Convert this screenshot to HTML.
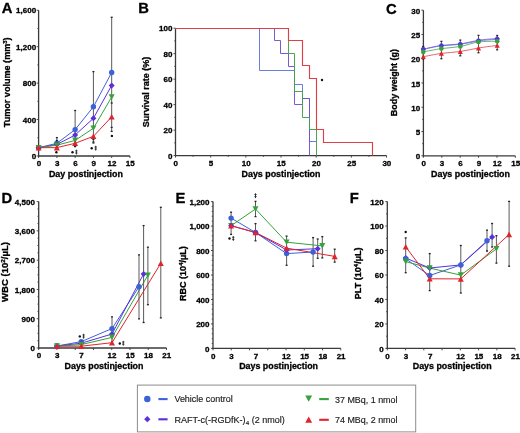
<!DOCTYPE html>
<html><head><meta charset="utf-8"><style>
html,body{margin:0;padding:0;background:#fff;}
svg{display:block;filter:blur(0.4px);}
text{font-family:"Liberation Sans",sans-serif;}
text[font-weight="bold"]{stroke:#000;stroke-width:0.3px;fill:#000;}
</style></head><body>
<svg width="520" height="433" viewBox="0 0 520 433">
<rect width="520" height="433" fill="#fff"/>
<text x="1.8" y="13.4" font-size="14.8" font-weight="bold" fill="#111">A</text>
<line x1="38.60" y1="156.60" x2="38.60" y2="10.24" stroke="#3a3a3a" stroke-width="1.3"/>
<line x1="36.60" y1="156.00" x2="38.60" y2="156.00" stroke="#3a3a3a" stroke-width="0.9"/>
<text x="36.10" y="159.10" font-size="8.0" font-weight="bold" text-anchor="end" fill="#111">0</text>
<line x1="36.60" y1="119.56" x2="38.60" y2="119.56" stroke="#3a3a3a" stroke-width="0.9"/>
<text x="36.10" y="122.66" font-size="8.0" font-weight="bold" text-anchor="end" fill="#111">400</text>
<line x1="36.60" y1="83.12" x2="38.60" y2="83.12" stroke="#3a3a3a" stroke-width="0.9"/>
<text x="36.10" y="86.22" font-size="8.0" font-weight="bold" text-anchor="end" fill="#111">800</text>
<line x1="36.60" y1="46.68" x2="38.60" y2="46.68" stroke="#3a3a3a" stroke-width="0.9"/>
<text x="36.10" y="49.78" font-size="8.0" font-weight="bold" text-anchor="end" fill="#111">1,200</text>
<line x1="36.60" y1="10.24" x2="38.60" y2="10.24" stroke="#3a3a3a" stroke-width="0.9"/>
<text x="36.10" y="13.34" font-size="8.0" font-weight="bold" text-anchor="end" fill="#111">1,600</text>
<line x1="37.30" y1="137.78" x2="38.60" y2="137.78" stroke="#3a3a3a" stroke-width="0.8"/>
<line x1="37.30" y1="101.34" x2="38.60" y2="101.34" stroke="#3a3a3a" stroke-width="0.8"/>
<line x1="37.30" y1="64.90" x2="38.60" y2="64.90" stroke="#3a3a3a" stroke-width="0.8"/>
<line x1="37.30" y1="28.46" x2="38.60" y2="28.46" stroke="#3a3a3a" stroke-width="0.8"/>
<line x1="38.00" y1="156.00" x2="129.95" y2="156.00" stroke="#3a3a3a" stroke-width="1.3"/>
<line x1="38.60" y1="156.00" x2="38.60" y2="158.00" stroke="#3a3a3a" stroke-width="0.9"/>
<line x1="56.87" y1="156.00" x2="56.87" y2="158.00" stroke="#3a3a3a" stroke-width="0.9"/>
<line x1="75.14" y1="156.00" x2="75.14" y2="158.00" stroke="#3a3a3a" stroke-width="0.9"/>
<line x1="93.41" y1="156.00" x2="93.41" y2="158.00" stroke="#3a3a3a" stroke-width="0.9"/>
<line x1="111.68" y1="156.00" x2="111.68" y2="158.00" stroke="#3a3a3a" stroke-width="0.9"/>
<line x1="129.95" y1="156.00" x2="129.95" y2="158.00" stroke="#3a3a3a" stroke-width="0.9"/>
<text x="38.90" y="165.60" font-size="8.0" font-weight="bold" text-anchor="middle" fill="#111">0</text>
<text x="57.17" y="165.60" font-size="8.0" font-weight="bold" text-anchor="middle" fill="#111">3</text>
<text x="75.44" y="165.60" font-size="8.0" font-weight="bold" text-anchor="middle" fill="#111">6</text>
<text x="93.71" y="165.60" font-size="8.0" font-weight="bold" text-anchor="middle" fill="#111">9</text>
<text x="111.98" y="165.60" font-size="8.0" font-weight="bold" text-anchor="middle" fill="#111">12</text>
<text x="130.25" y="165.60" font-size="8.0" font-weight="bold" text-anchor="middle" fill="#111">15</text>
<text x="85.90" y="177.00" font-size="8.9" font-weight="bold" text-anchor="middle" fill="#111"  >Day postinjection</text>
<text x="9.9" y="82.35" font-size="9.4" font-weight="bold" text-anchor="middle" fill="#111" textLength="89.7" lengthAdjust="spacingAndGlyphs" transform="rotate(-90 9.9 82.35)">Tumor volume (mm<tspan font-size="6.0" dy="-3.2">3</tspan><tspan dy="3.2">)</tspan></text>
<line x1="56.87" y1="137.60" x2="56.87" y2="147.50" stroke="#5a5a5a" stroke-width="1.0"/>
<line x1="55.87" y1="137.60" x2="57.87" y2="137.60" stroke="#222" stroke-width="1.3"/>
<line x1="55.87" y1="147.50" x2="57.87" y2="147.50" stroke="#222" stroke-width="1.3"/>
<line x1="75.14" y1="110.50" x2="75.14" y2="146.50" stroke="#5a5a5a" stroke-width="1.0"/>
<line x1="74.14" y1="110.50" x2="76.14" y2="110.50" stroke="#222" stroke-width="1.3"/>
<line x1="74.14" y1="146.50" x2="76.14" y2="146.50" stroke="#222" stroke-width="1.3"/>
<line x1="93.41" y1="71.60" x2="93.41" y2="142.00" stroke="#5a5a5a" stroke-width="1.0"/>
<line x1="92.41" y1="71.60" x2="94.41" y2="71.60" stroke="#222" stroke-width="1.3"/>
<line x1="92.41" y1="142.00" x2="94.41" y2="142.00" stroke="#222" stroke-width="1.3"/>
<line x1="111.68" y1="17.30" x2="111.68" y2="131.40" stroke="#5a5a5a" stroke-width="1.0"/>
<line x1="110.68" y1="17.30" x2="112.68" y2="17.30" stroke="#222" stroke-width="1.3"/>
<line x1="110.68" y1="131.40" x2="112.68" y2="131.40" stroke="#222" stroke-width="1.3"/>
<polyline points="38.60,147.70 56.87,143.30 75.14,129.60 93.41,106.80 111.68,72.50" fill="none" stroke="#3d62d8" stroke-width="1.0" stroke-linejoin="miter"/>
<polyline points="38.60,147.70 56.87,144.50 75.14,135.00 93.41,118.30 111.68,85.40" fill="none" stroke="#5a30dc" stroke-width="1.0" stroke-linejoin="miter"/>
<polyline points="38.60,147.70 56.87,145.20 75.14,140.40 93.41,128.30 111.68,97.00" fill="none" stroke="#36a23a" stroke-width="1.0" stroke-linejoin="miter"/>
<polyline points="38.60,147.70 56.87,147.60 75.14,143.30 93.41,136.30 111.68,116.80" fill="none" stroke="#e0242b" stroke-width="1.0" stroke-linejoin="miter"/>
<circle cx="38.60" cy="147.70" r="2.70" fill="#3d62d8"/>
<circle cx="56.87" cy="143.30" r="2.70" fill="#3d62d8"/>
<circle cx="75.14" cy="129.60" r="2.70" fill="#3d62d8"/>
<circle cx="93.41" cy="106.80" r="2.70" fill="#3d62d8"/>
<circle cx="111.68" cy="72.50" r="2.70" fill="#3d62d8"/>
<polygon points="38.60,144.70 41.60,147.70 38.60,150.70 35.60,147.70" fill="#5a30dc"/>
<polygon points="56.87,141.50 59.87,144.50 56.87,147.50 53.87,144.50" fill="#5a30dc"/>
<polygon points="75.14,132.00 78.14,135.00 75.14,138.00 72.14,135.00" fill="#5a30dc"/>
<polygon points="93.41,115.30 96.41,118.30 93.41,121.30 90.41,118.30" fill="#5a30dc"/>
<polygon points="111.68,82.40 114.68,85.40 111.68,88.40 108.68,85.40" fill="#5a30dc"/>
<polygon points="35.60,144.90 41.60,144.90 38.60,150.50" fill="#36a23a"/>
<polygon points="53.87,142.40 59.87,142.40 56.87,148.00" fill="#36a23a"/>
<polygon points="72.14,137.60 78.14,137.60 75.14,143.20" fill="#36a23a"/>
<polygon points="90.41,125.50 96.41,125.50 93.41,131.10" fill="#36a23a"/>
<polygon points="108.68,94.20 114.68,94.20 111.68,99.80" fill="#36a23a"/>
<polygon points="35.60,150.50 41.60,150.50 38.60,144.90" fill="#e0242b"/>
<polygon points="53.87,150.40 59.87,150.40 56.87,144.80" fill="#e0242b"/>
<polygon points="72.14,146.10 78.14,146.10 75.14,140.50" fill="#e0242b"/>
<polygon points="90.41,139.10 96.41,139.10 93.41,133.50" fill="#e0242b"/>
<polygon points="108.68,119.60 114.68,119.60 111.68,114.00" fill="#e0242b"/>
<line x1="110.68" y1="103.00" x2="112.68" y2="103.00" stroke="#222" stroke-width="1.3"/>
<line x1="110.68" y1="127.40" x2="112.68" y2="127.40" stroke="#222" stroke-width="1.3"/>
<line x1="92.41" y1="139.50" x2="94.41" y2="139.50" stroke="#222" stroke-width="1.3"/>
<line x1="92.41" y1="143.00" x2="94.41" y2="143.00" stroke="#222" stroke-width="1.3"/>
<line x1="74.14" y1="146.50" x2="76.14" y2="146.50" stroke="#222" stroke-width="1.3"/>
<line x1="55.87" y1="140.50" x2="57.87" y2="140.50" stroke="#222" stroke-width="1.3"/>
<circle cx="56.40" cy="152.30" r="1.2" fill="#111"/>
<circle cx="72.50" cy="152.20" r="1.2" fill="#111"/>
<path d="M76.40,149.70 V154.50 M75.30,150.90 H77.50 M75.30,153.00 H77.50" stroke="#222" stroke-width="0.9" fill="none"/>
<circle cx="91.70" cy="148.20" r="1.2" fill="#111"/>
<path d="M95.70,145.80 V150.60 M94.60,147.00 H96.80 M94.60,149.10 H96.80" stroke="#222" stroke-width="0.9" fill="none"/>
<circle cx="111.90" cy="135.90" r="1.2" fill="#111"/>
<text x="138.2" y="13.4" font-size="14.8" font-weight="bold" fill="#111">B</text>
<line x1="175.50" y1="156.20" x2="175.50" y2="28.15" stroke="#3a3a3a" stroke-width="1.3"/>
<line x1="173.50" y1="155.60" x2="175.50" y2="155.60" stroke="#3a3a3a" stroke-width="0.9"/>
<text x="172.40" y="158.70" font-size="8.0" font-weight="bold" text-anchor="end" fill="#111">0</text>
<line x1="173.50" y1="130.11" x2="175.50" y2="130.11" stroke="#3a3a3a" stroke-width="0.9"/>
<text x="172.40" y="133.21" font-size="8.0" font-weight="bold" text-anchor="end" fill="#111">20</text>
<line x1="173.50" y1="104.62" x2="175.50" y2="104.62" stroke="#3a3a3a" stroke-width="0.9"/>
<text x="172.40" y="107.72" font-size="8.0" font-weight="bold" text-anchor="end" fill="#111">40</text>
<line x1="173.50" y1="79.13" x2="175.50" y2="79.13" stroke="#3a3a3a" stroke-width="0.9"/>
<text x="172.40" y="82.23" font-size="8.0" font-weight="bold" text-anchor="end" fill="#111">60</text>
<line x1="173.50" y1="53.64" x2="175.50" y2="53.64" stroke="#3a3a3a" stroke-width="0.9"/>
<text x="172.40" y="56.74" font-size="8.0" font-weight="bold" text-anchor="end" fill="#111">80</text>
<line x1="173.50" y1="28.15" x2="175.50" y2="28.15" stroke="#3a3a3a" stroke-width="0.9"/>
<text x="172.40" y="31.25" font-size="8.0" font-weight="bold" text-anchor="end" fill="#111">100</text>
<line x1="174.20" y1="142.85" x2="175.50" y2="142.85" stroke="#3a3a3a" stroke-width="0.8"/>
<line x1="174.20" y1="117.36" x2="175.50" y2="117.36" stroke="#3a3a3a" stroke-width="0.8"/>
<line x1="174.20" y1="91.88" x2="175.50" y2="91.88" stroke="#3a3a3a" stroke-width="0.8"/>
<line x1="174.20" y1="66.38" x2="175.50" y2="66.38" stroke="#3a3a3a" stroke-width="0.8"/>
<line x1="174.20" y1="40.89" x2="175.50" y2="40.89" stroke="#3a3a3a" stroke-width="0.8"/>
<line x1="174.90" y1="155.60" x2="386.55" y2="155.60" stroke="#3a3a3a" stroke-width="1.3"/>
<line x1="175.50" y1="155.60" x2="175.50" y2="157.60" stroke="#3a3a3a" stroke-width="0.9"/>
<line x1="210.68" y1="155.60" x2="210.68" y2="157.60" stroke="#3a3a3a" stroke-width="0.9"/>
<line x1="245.85" y1="155.60" x2="245.85" y2="157.60" stroke="#3a3a3a" stroke-width="0.9"/>
<line x1="281.02" y1="155.60" x2="281.02" y2="157.60" stroke="#3a3a3a" stroke-width="0.9"/>
<line x1="316.20" y1="155.60" x2="316.20" y2="157.60" stroke="#3a3a3a" stroke-width="0.9"/>
<line x1="351.38" y1="155.60" x2="351.38" y2="157.60" stroke="#3a3a3a" stroke-width="0.9"/>
<line x1="386.55" y1="155.60" x2="386.55" y2="157.60" stroke="#3a3a3a" stroke-width="0.9"/>
<line x1="193.09" y1="155.60" x2="193.09" y2="156.90" stroke="#3a3a3a" stroke-width="0.8"/>
<line x1="228.26" y1="155.60" x2="228.26" y2="156.90" stroke="#3a3a3a" stroke-width="0.8"/>
<line x1="263.44" y1="155.60" x2="263.44" y2="156.90" stroke="#3a3a3a" stroke-width="0.8"/>
<line x1="298.61" y1="155.60" x2="298.61" y2="156.90" stroke="#3a3a3a" stroke-width="0.8"/>
<line x1="333.79" y1="155.60" x2="333.79" y2="156.90" stroke="#3a3a3a" stroke-width="0.8"/>
<line x1="368.96" y1="155.60" x2="368.96" y2="156.90" stroke="#3a3a3a" stroke-width="0.8"/>
<text x="175.80" y="166.05" font-size="8.0" font-weight="bold" text-anchor="middle" fill="#111">0</text>
<text x="210.98" y="166.05" font-size="8.0" font-weight="bold" text-anchor="middle" fill="#111">5</text>
<text x="246.15" y="166.05" font-size="8.0" font-weight="bold" text-anchor="middle" fill="#111">10</text>
<text x="281.32" y="166.05" font-size="8.0" font-weight="bold" text-anchor="middle" fill="#111">15</text>
<text x="316.50" y="166.05" font-size="8.0" font-weight="bold" text-anchor="middle" fill="#111">20</text>
<text x="351.68" y="166.05" font-size="8.0" font-weight="bold" text-anchor="middle" fill="#111">25</text>
<text x="386.85" y="166.05" font-size="8.0" font-weight="bold" text-anchor="middle" fill="#111">30</text>
<text x="281.00" y="177.00" font-size="8.9" font-weight="bold" text-anchor="middle" fill="#111"  >Days postinjection</text>
<text x="149.30" y="92.00" font-size="9.0" font-weight="bold" text-anchor="middle" fill="#1a1a1a" transform="rotate(-90 149.30 92.00)">Survival rate (%)</text>
<polyline points="175.50,28.50 259.50,28.50 259.50,70.50 294.50,70.50 294.50,84.50 302.50,84.50 302.50,98.50 309.50,98.50 309.50,141.50 316.50,141.50" fill="none" stroke="#6276de" stroke-width="0.95" stroke-linejoin="miter"/>
<polyline points="175.50,28.50 274.50,28.50 274.50,40.50 280.50,40.50 280.50,53.50 288.50,53.50 288.50,66.50 294.50,66.50 294.50,104.50 302.50,104.50 302.50,98.50 309.50,98.50 309.50,155.50" fill="none" stroke="#7052d2" stroke-width="0.95" stroke-linejoin="miter"/>
<polyline points="175.50,28.50 288.50,28.50 288.50,53.50 294.50,53.50 294.50,91.50 302.50,91.50 302.50,117.50 309.50,117.50 309.50,129.50 316.50,129.50 316.50,155.50" fill="none" stroke="#45a04a" stroke-width="0.95" stroke-linejoin="miter"/>
<polyline points="175.50,28.50 288.50,28.50 288.50,40.50 302.50,40.50 302.50,65.50 309.50,65.50 309.50,78.50 316.50,78.50 316.50,129.50 323.50,129.50 323.50,142.50 372.50,142.50 372.50,155.50" fill="none" stroke="#de4048" stroke-width="1.15" stroke-linejoin="miter"/>
<circle cx="322.00" cy="80.00" r="1.2" fill="#111"/>
<text x="386.0" y="13.6" font-size="14.8" font-weight="bold" fill="#111">C</text>
<line x1="423.40" y1="156.40" x2="423.40" y2="10.21" stroke="#3a3a3a" stroke-width="1.3"/>
<line x1="421.40" y1="155.80" x2="423.40" y2="155.80" stroke="#3a3a3a" stroke-width="0.9"/>
<text x="420.20" y="159.40" font-size="8.0" font-weight="bold" text-anchor="end" fill="#111">0</text>
<line x1="421.40" y1="131.54" x2="423.40" y2="131.54" stroke="#3a3a3a" stroke-width="0.9"/>
<text x="420.20" y="135.14" font-size="8.0" font-weight="bold" text-anchor="end" fill="#111">5</text>
<line x1="421.40" y1="107.27" x2="423.40" y2="107.27" stroke="#3a3a3a" stroke-width="0.9"/>
<text x="420.20" y="110.87" font-size="8.0" font-weight="bold" text-anchor="end" fill="#111">10</text>
<line x1="421.40" y1="83.01" x2="423.40" y2="83.01" stroke="#3a3a3a" stroke-width="0.9"/>
<text x="420.20" y="86.61" font-size="8.0" font-weight="bold" text-anchor="end" fill="#111">15</text>
<line x1="421.40" y1="58.74" x2="423.40" y2="58.74" stroke="#3a3a3a" stroke-width="0.9"/>
<text x="420.20" y="62.34" font-size="8.0" font-weight="bold" text-anchor="end" fill="#111">20</text>
<line x1="421.40" y1="34.48" x2="423.40" y2="34.48" stroke="#3a3a3a" stroke-width="0.9"/>
<text x="420.20" y="38.08" font-size="8.0" font-weight="bold" text-anchor="end" fill="#111">25</text>
<line x1="421.40" y1="10.21" x2="423.40" y2="10.21" stroke="#3a3a3a" stroke-width="0.9"/>
<text x="420.20" y="13.81" font-size="8.0" font-weight="bold" text-anchor="end" fill="#111">30</text>
<line x1="422.10" y1="143.67" x2="423.40" y2="143.67" stroke="#3a3a3a" stroke-width="0.8"/>
<line x1="422.10" y1="119.40" x2="423.40" y2="119.40" stroke="#3a3a3a" stroke-width="0.8"/>
<line x1="422.10" y1="95.14" x2="423.40" y2="95.14" stroke="#3a3a3a" stroke-width="0.8"/>
<line x1="422.10" y1="70.87" x2="423.40" y2="70.87" stroke="#3a3a3a" stroke-width="0.8"/>
<line x1="422.10" y1="46.61" x2="423.40" y2="46.61" stroke="#3a3a3a" stroke-width="0.8"/>
<line x1="422.10" y1="22.34" x2="423.40" y2="22.34" stroke="#3a3a3a" stroke-width="0.8"/>
<line x1="422.80" y1="155.80" x2="515.35" y2="155.80" stroke="#3a3a3a" stroke-width="1.3"/>
<line x1="423.40" y1="155.80" x2="423.40" y2="157.80" stroke="#3a3a3a" stroke-width="0.9"/>
<line x1="441.79" y1="155.80" x2="441.79" y2="157.80" stroke="#3a3a3a" stroke-width="0.9"/>
<line x1="460.18" y1="155.80" x2="460.18" y2="157.80" stroke="#3a3a3a" stroke-width="0.9"/>
<line x1="478.57" y1="155.80" x2="478.57" y2="157.80" stroke="#3a3a3a" stroke-width="0.9"/>
<line x1="496.96" y1="155.80" x2="496.96" y2="157.80" stroke="#3a3a3a" stroke-width="0.9"/>
<line x1="515.35" y1="155.80" x2="515.35" y2="157.80" stroke="#3a3a3a" stroke-width="0.9"/>
<text x="423.70" y="166.20" font-size="8.0" font-weight="bold" text-anchor="middle" fill="#111">0</text>
<text x="442.09" y="166.20" font-size="8.0" font-weight="bold" text-anchor="middle" fill="#111">3</text>
<text x="460.48" y="166.20" font-size="8.0" font-weight="bold" text-anchor="middle" fill="#111">6</text>
<text x="478.87" y="166.20" font-size="8.0" font-weight="bold" text-anchor="middle" fill="#111">9</text>
<text x="497.26" y="166.20" font-size="8.0" font-weight="bold" text-anchor="middle" fill="#111">12</text>
<text x="515.65" y="166.20" font-size="8.0" font-weight="bold" text-anchor="middle" fill="#111">15</text>
<text x="470.50" y="177.00" font-size="8.9" font-weight="bold" text-anchor="middle" fill="#111"  >Days postinjection</text>
<text x="397.3" y="82.55" font-size="9.0" font-weight="bold" text-anchor="middle" fill="#111" textLength="67.2" lengthAdjust="spacingAndGlyphs" transform="rotate(-90 397.3 82.55)">Body weight (g)</text>
<line x1="423.30" y1="46.50" x2="423.30" y2="59.00" stroke="#5a5a5a" stroke-width="1.0"/>
<line x1="422.30" y1="46.50" x2="424.30" y2="46.50" stroke="#222" stroke-width="1.3"/>
<line x1="422.30" y1="59.00" x2="424.30" y2="59.00" stroke="#222" stroke-width="1.3"/>
<line x1="441.40" y1="41.40" x2="441.40" y2="58.70" stroke="#5a5a5a" stroke-width="1.0"/>
<line x1="440.40" y1="41.40" x2="442.40" y2="41.40" stroke="#222" stroke-width="1.3"/>
<line x1="440.40" y1="58.70" x2="442.40" y2="58.70" stroke="#222" stroke-width="1.3"/>
<line x1="460.30" y1="40.10" x2="460.30" y2="55.80" stroke="#5a5a5a" stroke-width="1.0"/>
<line x1="459.30" y1="40.10" x2="461.30" y2="40.10" stroke="#222" stroke-width="1.3"/>
<line x1="459.30" y1="55.80" x2="461.30" y2="55.80" stroke="#222" stroke-width="1.3"/>
<line x1="478.50" y1="35.40" x2="478.50" y2="52.70" stroke="#5a5a5a" stroke-width="1.0"/>
<line x1="477.50" y1="35.40" x2="479.50" y2="35.40" stroke="#222" stroke-width="1.3"/>
<line x1="477.50" y1="52.70" x2="479.50" y2="52.70" stroke="#222" stroke-width="1.3"/>
<line x1="497.20" y1="35.50" x2="497.20" y2="49.80" stroke="#5a5a5a" stroke-width="1.0"/>
<line x1="496.20" y1="35.50" x2="498.20" y2="35.50" stroke="#222" stroke-width="1.3"/>
<line x1="496.20" y1="49.80" x2="498.20" y2="49.80" stroke="#222" stroke-width="1.3"/>
<path d="M423.30,49.40 C426.32,48.80 435.23,46.63 441.40,45.80 C447.57,44.97 454.12,45.20 460.30,44.40 C466.48,43.60 472.35,41.87 478.50,41.00 C484.65,40.13 494.08,39.50 497.20,39.20" fill="none" stroke="#6276de" stroke-width="0.8"/>
<path d="M423.30,49.10 C426.32,48.48 435.23,46.25 441.40,45.40 C447.57,44.55 454.12,44.87 460.30,44.00 C466.48,43.13 472.35,41.12 478.50,40.20 C484.65,39.28 494.08,38.78 497.20,38.50" fill="none" stroke="#7052d2" stroke-width="0.8"/>
<path d="M423.30,51.90 C426.32,51.35 435.23,49.50 441.40,48.60 C447.57,47.70 454.12,47.60 460.30,46.50 C466.48,45.40 472.35,42.88 478.50,42.00 C484.65,41.12 494.08,41.33 497.20,41.20" fill="none" stroke="#45a04a" stroke-width="0.8"/>
<path d="M423.30,56.70 C426.32,56.15 435.23,54.27 441.40,53.40 C447.57,52.53 454.12,52.40 460.30,51.50 C466.48,50.60 472.35,49.02 478.50,48.00 C484.65,46.98 494.08,45.83 497.20,45.40" fill="none" stroke="#de4048" stroke-width="0.8"/>
<circle cx="423.30" cy="49.40" r="2.29" fill="#3d62d8"/>
<circle cx="441.40" cy="45.80" r="2.29" fill="#3d62d8"/>
<circle cx="460.30" cy="44.40" r="2.29" fill="#3d62d8"/>
<circle cx="478.50" cy="41.00" r="2.29" fill="#3d62d8"/>
<circle cx="497.20" cy="39.20" r="2.29" fill="#3d62d8"/>
<polygon points="423.30,46.55 425.85,49.10 423.30,51.65 420.75,49.10" fill="#5a30dc"/>
<polygon points="441.40,42.85 443.95,45.40 441.40,47.95 438.85,45.40" fill="#5a30dc"/>
<polygon points="460.30,41.45 462.85,44.00 460.30,46.55 457.75,44.00" fill="#5a30dc"/>
<polygon points="478.50,37.65 481.05,40.20 478.50,42.75 475.95,40.20" fill="#5a30dc"/>
<polygon points="497.20,35.95 499.75,38.50 497.20,41.05 494.65,38.50" fill="#5a30dc"/>
<circle cx="423.30" cy="51.90" r="2.29" fill="#36a23a"/>
<circle cx="441.40" cy="48.60" r="2.29" fill="#36a23a"/>
<circle cx="460.30" cy="46.50" r="2.29" fill="#36a23a"/>
<circle cx="478.50" cy="42.00" r="2.29" fill="#36a23a"/>
<circle cx="497.20" cy="41.20" r="2.29" fill="#36a23a"/>
<polygon points="420.75,59.08 425.85,59.08 423.30,54.32" fill="#e0242b"/>
<polygon points="438.85,55.78 443.95,55.78 441.40,51.02" fill="#e0242b"/>
<polygon points="457.75,53.88 462.85,53.88 460.30,49.12" fill="#e0242b"/>
<polygon points="475.95,50.38 481.05,50.38 478.50,45.62" fill="#e0242b"/>
<polygon points="494.65,47.78 499.75,47.78 497.20,43.02" fill="#e0242b"/>
<text x="1.4" y="203.3" font-size="14.8" font-weight="bold" fill="#111">D</text>
<line x1="38.70" y1="348.60" x2="38.70" y2="201.60" stroke="#3a3a3a" stroke-width="1.3"/>
<line x1="36.70" y1="348.00" x2="38.70" y2="348.00" stroke="#3a3a3a" stroke-width="0.9"/>
<text x="34.90" y="351.10" font-size="8.0" font-weight="bold" text-anchor="end" fill="#111">0</text>
<line x1="36.70" y1="318.72" x2="38.70" y2="318.72" stroke="#3a3a3a" stroke-width="0.9"/>
<text x="34.90" y="321.82" font-size="8.0" font-weight="bold" text-anchor="end" fill="#111">900</text>
<line x1="36.70" y1="289.44" x2="38.70" y2="289.44" stroke="#3a3a3a" stroke-width="0.9"/>
<text x="34.90" y="292.54" font-size="8.0" font-weight="bold" text-anchor="end" fill="#111">1,800</text>
<line x1="36.70" y1="260.16" x2="38.70" y2="260.16" stroke="#3a3a3a" stroke-width="0.9"/>
<text x="34.90" y="263.26" font-size="8.0" font-weight="bold" text-anchor="end" fill="#111">2,700</text>
<line x1="36.70" y1="230.88" x2="38.70" y2="230.88" stroke="#3a3a3a" stroke-width="0.9"/>
<text x="34.90" y="233.98" font-size="8.0" font-weight="bold" text-anchor="end" fill="#111">3,600</text>
<line x1="36.70" y1="201.60" x2="38.70" y2="201.60" stroke="#3a3a3a" stroke-width="0.9"/>
<text x="34.90" y="204.70" font-size="8.0" font-weight="bold" text-anchor="end" fill="#111">4,500</text>
<line x1="37.40" y1="340.68" x2="38.70" y2="340.68" stroke="#3a3a3a" stroke-width="0.8"/>
<line x1="37.40" y1="333.36" x2="38.70" y2="333.36" stroke="#3a3a3a" stroke-width="0.8"/>
<line x1="37.40" y1="326.04" x2="38.70" y2="326.04" stroke="#3a3a3a" stroke-width="0.8"/>
<line x1="37.40" y1="311.40" x2="38.70" y2="311.40" stroke="#3a3a3a" stroke-width="0.8"/>
<line x1="37.40" y1="304.08" x2="38.70" y2="304.08" stroke="#3a3a3a" stroke-width="0.8"/>
<line x1="37.40" y1="296.76" x2="38.70" y2="296.76" stroke="#3a3a3a" stroke-width="0.8"/>
<line x1="37.40" y1="282.12" x2="38.70" y2="282.12" stroke="#3a3a3a" stroke-width="0.8"/>
<line x1="37.40" y1="274.80" x2="38.70" y2="274.80" stroke="#3a3a3a" stroke-width="0.8"/>
<line x1="37.40" y1="267.48" x2="38.70" y2="267.48" stroke="#3a3a3a" stroke-width="0.8"/>
<line x1="37.40" y1="252.84" x2="38.70" y2="252.84" stroke="#3a3a3a" stroke-width="0.8"/>
<line x1="37.40" y1="245.52" x2="38.70" y2="245.52" stroke="#3a3a3a" stroke-width="0.8"/>
<line x1="37.40" y1="238.20" x2="38.70" y2="238.20" stroke="#3a3a3a" stroke-width="0.8"/>
<line x1="37.40" y1="223.56" x2="38.70" y2="223.56" stroke="#3a3a3a" stroke-width="0.8"/>
<line x1="37.40" y1="216.24" x2="38.70" y2="216.24" stroke="#3a3a3a" stroke-width="0.8"/>
<line x1="37.40" y1="208.92" x2="38.70" y2="208.92" stroke="#3a3a3a" stroke-width="0.8"/>
<line x1="38.10" y1="348.00" x2="166.51" y2="348.00" stroke="#3a3a3a" stroke-width="1.3"/>
<line x1="38.70" y1="348.00" x2="38.70" y2="350.00" stroke="#3a3a3a" stroke-width="0.9"/>
<line x1="56.96" y1="348.00" x2="56.96" y2="350.00" stroke="#3a3a3a" stroke-width="0.9"/>
<line x1="75.22" y1="348.00" x2="75.22" y2="350.00" stroke="#3a3a3a" stroke-width="0.9"/>
<line x1="93.47" y1="348.00" x2="93.47" y2="350.00" stroke="#3a3a3a" stroke-width="0.9"/>
<line x1="111.73" y1="348.00" x2="111.73" y2="350.00" stroke="#3a3a3a" stroke-width="0.9"/>
<line x1="129.99" y1="348.00" x2="129.99" y2="350.00" stroke="#3a3a3a" stroke-width="0.9"/>
<line x1="148.25" y1="348.00" x2="148.25" y2="350.00" stroke="#3a3a3a" stroke-width="0.9"/>
<line x1="166.51" y1="348.00" x2="166.51" y2="350.00" stroke="#3a3a3a" stroke-width="0.9"/>
<text x="39.00" y="358.10" font-size="8.0" font-weight="bold" text-anchor="middle" fill="#111">0</text>
<text x="57.26" y="358.10" font-size="8.0" font-weight="bold" text-anchor="middle" fill="#111">3</text>
<text x="81.60" y="358.10" font-size="8.0" font-weight="bold" text-anchor="middle" fill="#111">7</text>
<text x="112.03" y="358.10" font-size="8.0" font-weight="bold" text-anchor="middle" fill="#111">12</text>
<text x="130.29" y="358.10" font-size="8.0" font-weight="bold" text-anchor="middle" fill="#111">15</text>
<text x="148.55" y="358.10" font-size="8.0" font-weight="bold" text-anchor="middle" fill="#111">18</text>
<text x="166.81" y="358.10" font-size="8.0" font-weight="bold" text-anchor="middle" fill="#111">21</text>
<text x="104.00" y="369.10" font-size="8.9" font-weight="bold" text-anchor="middle" fill="#111"  >Days postinjection</text>
<text x="7.9" y="272.0" font-size="9.2" font-weight="bold" text-anchor="middle" fill="#111" textLength="60" lengthAdjust="spacingAndGlyphs" transform="rotate(-90 7.9 272.0)">WBC (10<tspan font-size="6.2" dy="-3.2">2</tspan><tspan dy="3.2">/µL)</tspan></text>
<polyline points="56.96,346.00 81.30,341.60 112.00,328.60 139.00,286.80" fill="none" stroke="#3d62d8" stroke-width="1.0" stroke-linejoin="miter"/>
<polyline points="56.96,346.00 81.30,343.20 112.00,334.00 143.60,273.90" fill="none" stroke="#5a30dc" stroke-width="1.0" stroke-linejoin="miter"/>
<polyline points="56.96,346.10 81.30,344.60 112.00,337.40 147.90,275.20" fill="none" stroke="#36a23a" stroke-width="1.0" stroke-linejoin="miter"/>
<polyline points="56.96,346.20 81.30,346.20 112.00,342.70 160.80,263.30" fill="none" stroke="#e0242b" stroke-width="1.0" stroke-linejoin="miter"/>
<line x1="81.30" y1="340.40" x2="81.30" y2="346.00" stroke="#5a5a5a" stroke-width="1.0"/>
<line x1="80.30" y1="340.40" x2="82.30" y2="340.40" stroke="#222" stroke-width="1.3"/>
<line x1="80.30" y1="346.00" x2="82.30" y2="346.00" stroke="#222" stroke-width="1.3"/>
<line x1="112.00" y1="316.90" x2="112.00" y2="342.00" stroke="#5a5a5a" stroke-width="1.0"/>
<line x1="111.00" y1="316.90" x2="113.00" y2="316.90" stroke="#222" stroke-width="1.3"/>
<line x1="111.00" y1="342.00" x2="113.00" y2="342.00" stroke="#222" stroke-width="1.3"/>
<line x1="139.00" y1="254.80" x2="139.00" y2="318.80" stroke="#5a5a5a" stroke-width="1.0"/>
<line x1="138.00" y1="254.80" x2="140.00" y2="254.80" stroke="#222" stroke-width="1.3"/>
<line x1="138.00" y1="318.80" x2="140.00" y2="318.80" stroke="#222" stroke-width="1.3"/>
<line x1="143.60" y1="225.60" x2="143.60" y2="322.50" stroke="#5a5a5a" stroke-width="1.0"/>
<line x1="142.60" y1="225.60" x2="144.60" y2="225.60" stroke="#222" stroke-width="1.3"/>
<line x1="142.60" y1="322.50" x2="144.60" y2="322.50" stroke="#222" stroke-width="1.3"/>
<line x1="147.90" y1="247.20" x2="147.90" y2="304.70" stroke="#5a5a5a" stroke-width="1.0"/>
<line x1="146.90" y1="247.20" x2="148.90" y2="247.20" stroke="#222" stroke-width="1.3"/>
<line x1="146.90" y1="304.70" x2="148.90" y2="304.70" stroke="#222" stroke-width="1.3"/>
<line x1="160.80" y1="207.30" x2="160.80" y2="317.90" stroke="#5a5a5a" stroke-width="1.0"/>
<line x1="159.80" y1="207.30" x2="161.80" y2="207.30" stroke="#222" stroke-width="1.3"/>
<line x1="159.80" y1="317.90" x2="161.80" y2="317.90" stroke="#222" stroke-width="1.3"/>
<circle cx="56.96" cy="346.00" r="2.70" fill="#3d62d8"/>
<circle cx="81.30" cy="341.60" r="2.70" fill="#3d62d8"/>
<circle cx="112.00" cy="328.60" r="2.70" fill="#3d62d8"/>
<circle cx="139.00" cy="286.80" r="2.70" fill="#3d62d8"/>
<polygon points="56.96,343.00 59.96,346.00 56.96,349.00 53.96,346.00" fill="#5a30dc"/>
<polygon points="81.30,340.20 84.30,343.20 81.30,346.20 78.30,343.20" fill="#5a30dc"/>
<polygon points="112.00,331.00 115.00,334.00 112.00,337.00 109.00,334.00" fill="#5a30dc"/>
<polygon points="143.60,270.90 146.60,273.90 143.60,276.90 140.60,273.90" fill="#5a30dc"/>
<polygon points="53.96,343.30 59.96,343.30 56.96,348.90" fill="#36a23a"/>
<polygon points="78.30,341.80 84.30,341.80 81.30,347.40" fill="#36a23a"/>
<polygon points="109.00,334.60 115.00,334.60 112.00,340.20" fill="#36a23a"/>
<polygon points="144.90,272.40 150.90,272.40 147.90,278.00" fill="#36a23a"/>
<polygon points="53.96,349.00 59.96,349.00 56.96,343.40" fill="#e0242b"/>
<polygon points="78.30,349.00 84.30,349.00 81.30,343.40" fill="#e0242b"/>
<polygon points="109.00,345.50 115.00,345.50 112.00,339.90" fill="#e0242b"/>
<polygon points="157.80,266.10 163.80,266.10 160.80,260.50" fill="#e0242b"/>
<circle cx="79.80" cy="336.40" r="1.2" fill="#111"/>
<path d="M83.60,333.80 V338.60 M82.50,335.00 H84.70 M82.50,337.10 H84.70" stroke="#222" stroke-width="0.9" fill="none"/>
<circle cx="119.80" cy="343.50" r="1.2" fill="#111"/>
<path d="M123.30,340.90 V345.70 M122.20,342.10 H124.40 M122.20,344.20 H124.40" stroke="#222" stroke-width="0.9" fill="none"/>
<text x="175.5" y="203.3" font-size="14.8" font-weight="bold" fill="#111">E</text>
<line x1="213.00" y1="349.00" x2="213.00" y2="201.60" stroke="#3a3a3a" stroke-width="1.3"/>
<line x1="211.00" y1="348.40" x2="213.00" y2="348.40" stroke="#3a3a3a" stroke-width="0.9"/>
<text x="209.50" y="351.50" font-size="8.0" font-weight="bold" text-anchor="end" fill="#111">0</text>
<line x1="211.00" y1="323.93" x2="213.00" y2="323.93" stroke="#3a3a3a" stroke-width="0.9"/>
<text x="209.50" y="327.03" font-size="8.0" font-weight="bold" text-anchor="end" fill="#111">200</text>
<line x1="211.00" y1="299.47" x2="213.00" y2="299.47" stroke="#3a3a3a" stroke-width="0.9"/>
<text x="209.50" y="302.57" font-size="8.0" font-weight="bold" text-anchor="end" fill="#111">400</text>
<line x1="211.00" y1="275.00" x2="213.00" y2="275.00" stroke="#3a3a3a" stroke-width="0.9"/>
<text x="209.50" y="278.10" font-size="8.0" font-weight="bold" text-anchor="end" fill="#111">600</text>
<line x1="211.00" y1="250.53" x2="213.00" y2="250.53" stroke="#3a3a3a" stroke-width="0.9"/>
<text x="209.50" y="253.63" font-size="8.0" font-weight="bold" text-anchor="end" fill="#111">800</text>
<line x1="211.00" y1="226.07" x2="213.00" y2="226.07" stroke="#3a3a3a" stroke-width="0.9"/>
<text x="209.50" y="229.17" font-size="8.0" font-weight="bold" text-anchor="end" fill="#111">1,000</text>
<line x1="211.00" y1="201.60" x2="213.00" y2="201.60" stroke="#3a3a3a" stroke-width="0.9"/>
<text x="209.50" y="204.70" font-size="8.0" font-weight="bold" text-anchor="end" fill="#111">1,200</text>
<line x1="211.70" y1="343.51" x2="213.00" y2="343.51" stroke="#3a3a3a" stroke-width="0.8"/>
<line x1="211.70" y1="338.61" x2="213.00" y2="338.61" stroke="#3a3a3a" stroke-width="0.8"/>
<line x1="211.70" y1="333.72" x2="213.00" y2="333.72" stroke="#3a3a3a" stroke-width="0.8"/>
<line x1="211.70" y1="328.83" x2="213.00" y2="328.83" stroke="#3a3a3a" stroke-width="0.8"/>
<line x1="211.70" y1="319.04" x2="213.00" y2="319.04" stroke="#3a3a3a" stroke-width="0.8"/>
<line x1="211.70" y1="314.15" x2="213.00" y2="314.15" stroke="#3a3a3a" stroke-width="0.8"/>
<line x1="211.70" y1="309.25" x2="213.00" y2="309.25" stroke="#3a3a3a" stroke-width="0.8"/>
<line x1="211.70" y1="304.36" x2="213.00" y2="304.36" stroke="#3a3a3a" stroke-width="0.8"/>
<line x1="211.70" y1="294.57" x2="213.00" y2="294.57" stroke="#3a3a3a" stroke-width="0.8"/>
<line x1="211.70" y1="289.68" x2="213.00" y2="289.68" stroke="#3a3a3a" stroke-width="0.8"/>
<line x1="211.70" y1="284.79" x2="213.00" y2="284.79" stroke="#3a3a3a" stroke-width="0.8"/>
<line x1="211.70" y1="279.89" x2="213.00" y2="279.89" stroke="#3a3a3a" stroke-width="0.8"/>
<line x1="211.70" y1="270.11" x2="213.00" y2="270.11" stroke="#3a3a3a" stroke-width="0.8"/>
<line x1="211.70" y1="265.21" x2="213.00" y2="265.21" stroke="#3a3a3a" stroke-width="0.8"/>
<line x1="211.70" y1="260.32" x2="213.00" y2="260.32" stroke="#3a3a3a" stroke-width="0.8"/>
<line x1="211.70" y1="255.43" x2="213.00" y2="255.43" stroke="#3a3a3a" stroke-width="0.8"/>
<line x1="211.70" y1="245.64" x2="213.00" y2="245.64" stroke="#3a3a3a" stroke-width="0.8"/>
<line x1="211.70" y1="240.75" x2="213.00" y2="240.75" stroke="#3a3a3a" stroke-width="0.8"/>
<line x1="211.70" y1="235.85" x2="213.00" y2="235.85" stroke="#3a3a3a" stroke-width="0.8"/>
<line x1="211.70" y1="230.96" x2="213.00" y2="230.96" stroke="#3a3a3a" stroke-width="0.8"/>
<line x1="211.70" y1="221.17" x2="213.00" y2="221.17" stroke="#3a3a3a" stroke-width="0.8"/>
<line x1="211.70" y1="216.28" x2="213.00" y2="216.28" stroke="#3a3a3a" stroke-width="0.8"/>
<line x1="211.70" y1="211.39" x2="213.00" y2="211.39" stroke="#3a3a3a" stroke-width="0.8"/>
<line x1="211.70" y1="206.49" x2="213.00" y2="206.49" stroke="#3a3a3a" stroke-width="0.8"/>
<line x1="212.40" y1="348.40" x2="340.81" y2="348.40" stroke="#3a3a3a" stroke-width="1.3"/>
<line x1="213.00" y1="348.40" x2="213.00" y2="350.40" stroke="#3a3a3a" stroke-width="0.9"/>
<line x1="231.26" y1="348.40" x2="231.26" y2="350.40" stroke="#3a3a3a" stroke-width="0.9"/>
<line x1="249.52" y1="348.40" x2="249.52" y2="350.40" stroke="#3a3a3a" stroke-width="0.9"/>
<line x1="267.77" y1="348.40" x2="267.77" y2="350.40" stroke="#3a3a3a" stroke-width="0.9"/>
<line x1="286.03" y1="348.40" x2="286.03" y2="350.40" stroke="#3a3a3a" stroke-width="0.9"/>
<line x1="304.29" y1="348.40" x2="304.29" y2="350.40" stroke="#3a3a3a" stroke-width="0.9"/>
<line x1="322.55" y1="348.40" x2="322.55" y2="350.40" stroke="#3a3a3a" stroke-width="0.9"/>
<line x1="340.81" y1="348.40" x2="340.81" y2="350.40" stroke="#3a3a3a" stroke-width="0.9"/>
<text x="213.30" y="358.50" font-size="8.0" font-weight="bold" text-anchor="middle" fill="#111">0</text>
<text x="231.56" y="358.50" font-size="8.0" font-weight="bold" text-anchor="middle" fill="#111">3</text>
<text x="255.90" y="358.50" font-size="8.0" font-weight="bold" text-anchor="middle" fill="#111">7</text>
<text x="286.33" y="358.50" font-size="8.0" font-weight="bold" text-anchor="middle" fill="#111">12</text>
<text x="304.59" y="358.50" font-size="8.0" font-weight="bold" text-anchor="middle" fill="#111">15</text>
<text x="322.85" y="358.50" font-size="8.0" font-weight="bold" text-anchor="middle" fill="#111">18</text>
<text x="341.11" y="358.50" font-size="8.0" font-weight="bold" text-anchor="middle" fill="#111">21</text>
<text x="278.60" y="369.30" font-size="8.9" font-weight="bold" text-anchor="middle" fill="#111"  >Days postinjection</text>
<text x="186.1" y="273.6" font-size="9.2" font-weight="bold" text-anchor="middle" fill="#111" textLength="54.8" lengthAdjust="spacingAndGlyphs" transform="rotate(-90 186.1 273.6)">RBC (10<tspan font-size="6.2" dy="-3.2">4</tspan><tspan dy="3.2">/µL)</tspan></text>
<line x1="231.10" y1="212.20" x2="231.10" y2="234.40" stroke="#5a5a5a" stroke-width="1.0"/>
<line x1="230.10" y1="212.20" x2="232.10" y2="212.20" stroke="#222" stroke-width="1.3"/>
<line x1="230.10" y1="234.40" x2="232.10" y2="234.40" stroke="#222" stroke-width="1.3"/>
<line x1="255.50" y1="201.40" x2="255.50" y2="216.60" stroke="#5a5a5a" stroke-width="1.0"/>
<line x1="254.50" y1="201.40" x2="256.50" y2="201.40" stroke="#222" stroke-width="1.3"/>
<line x1="254.50" y1="216.60" x2="256.50" y2="216.60" stroke="#222" stroke-width="1.3"/>
<line x1="255.50" y1="223.60" x2="255.50" y2="240.80" stroke="#5a5a5a" stroke-width="1.0"/>
<line x1="254.50" y1="223.60" x2="256.50" y2="223.60" stroke="#222" stroke-width="1.3"/>
<line x1="254.50" y1="240.80" x2="256.50" y2="240.80" stroke="#222" stroke-width="1.3"/>
<line x1="286.60" y1="236.10" x2="286.60" y2="265.30" stroke="#5a5a5a" stroke-width="1.0"/>
<line x1="285.60" y1="236.10" x2="287.60" y2="236.10" stroke="#222" stroke-width="1.3"/>
<line x1="285.60" y1="265.30" x2="287.60" y2="265.30" stroke="#222" stroke-width="1.3"/>
<line x1="313.10" y1="237.60" x2="313.10" y2="266.20" stroke="#5a5a5a" stroke-width="1.0"/>
<line x1="312.10" y1="237.60" x2="314.10" y2="237.60" stroke="#222" stroke-width="1.3"/>
<line x1="312.10" y1="266.20" x2="314.10" y2="266.20" stroke="#222" stroke-width="1.3"/>
<line x1="317.70" y1="239.00" x2="317.70" y2="258.30" stroke="#5a5a5a" stroke-width="1.0"/>
<line x1="316.70" y1="239.00" x2="318.70" y2="239.00" stroke="#222" stroke-width="1.3"/>
<line x1="316.70" y1="258.30" x2="318.70" y2="258.30" stroke="#222" stroke-width="1.3"/>
<line x1="322.30" y1="236.60" x2="322.30" y2="257.90" stroke="#5a5a5a" stroke-width="1.0"/>
<line x1="321.30" y1="236.60" x2="323.30" y2="236.60" stroke="#222" stroke-width="1.3"/>
<line x1="321.30" y1="257.90" x2="323.30" y2="257.90" stroke="#222" stroke-width="1.3"/>
<line x1="334.70" y1="249.20" x2="334.70" y2="262.10" stroke="#5a5a5a" stroke-width="1.0"/>
<line x1="333.70" y1="249.20" x2="335.70" y2="249.20" stroke="#222" stroke-width="1.3"/>
<line x1="333.70" y1="262.10" x2="335.70" y2="262.10" stroke="#222" stroke-width="1.3"/>
<polyline points="231.10,218.10 255.50,232.50 286.60,253.60 313.10,252.00" fill="none" stroke="#3d62d8" stroke-width="1.0" stroke-linejoin="miter"/>
<polyline points="231.10,225.70 255.50,209.00 286.60,242.20 322.30,245.90" fill="none" stroke="#36a23a" stroke-width="1.0" stroke-linejoin="miter"/>
<polyline points="231.10,225.70 255.50,232.50 286.60,250.00 317.70,248.70" fill="none" stroke="#5a30dc" stroke-width="1.0" stroke-linejoin="miter"/>
<polyline points="231.10,225.70 255.50,232.50 286.60,248.10 334.70,256.40" fill="none" stroke="#e0242b" stroke-width="1.0" stroke-linejoin="miter"/>
<circle cx="231.10" cy="218.10" r="2.70" fill="#3d62d8"/>
<circle cx="255.50" cy="232.50" r="2.70" fill="#3d62d8"/>
<circle cx="286.60" cy="253.60" r="2.70" fill="#3d62d8"/>
<circle cx="313.10" cy="252.00" r="2.70" fill="#3d62d8"/>
<polygon points="228.10,222.90 234.10,222.90 231.10,228.50" fill="#36a23a"/>
<polygon points="252.50,206.20 258.50,206.20 255.50,211.80" fill="#36a23a"/>
<polygon points="283.60,239.40 289.60,239.40 286.60,245.00" fill="#36a23a"/>
<polygon points="319.30,243.10 325.30,243.10 322.30,248.70" fill="#36a23a"/>
<polygon points="231.10,222.70 234.10,225.70 231.10,228.70 228.10,225.70" fill="#5a30dc"/>
<polygon points="255.50,229.50 258.50,232.50 255.50,235.50 252.50,232.50" fill="#5a30dc"/>
<polygon points="286.60,247.00 289.60,250.00 286.60,253.00 283.60,250.00" fill="#5a30dc"/>
<polygon points="317.70,245.70 320.70,248.70 317.70,251.70 314.70,248.70" fill="#5a30dc"/>
<polygon points="228.10,228.50 234.10,228.50 231.10,222.90" fill="#e0242b"/>
<polygon points="252.50,235.30 258.50,235.30 255.50,229.70" fill="#e0242b"/>
<polygon points="283.60,250.90 289.60,250.90 286.60,245.30" fill="#e0242b"/>
<polygon points="331.70,259.20 337.70,259.20 334.70,253.60" fill="#e0242b"/>
<circle cx="229.50" cy="238.50" r="1.2" fill="#111"/>
<path d="M233.30,236.10 V240.90 M232.20,237.30 H234.40 M232.20,239.40 H234.40" stroke="#222" stroke-width="0.9" fill="none"/>
<path d="M255.50,193.30 V198.10 M254.40,194.50 H256.60 M254.40,196.60 H256.60" stroke="#222" stroke-width="0.9" fill="none"/>
<text x="349.7" y="203.3" font-size="14.8" font-weight="bold" fill="#111">F</text>
<line x1="387.30" y1="349.00" x2="387.30" y2="201.60" stroke="#3a3a3a" stroke-width="1.3"/>
<line x1="385.30" y1="348.40" x2="387.30" y2="348.40" stroke="#3a3a3a" stroke-width="0.9"/>
<text x="383.60" y="351.50" font-size="8.0" font-weight="bold" text-anchor="end" fill="#111">0</text>
<line x1="385.30" y1="323.93" x2="387.30" y2="323.93" stroke="#3a3a3a" stroke-width="0.9"/>
<text x="383.60" y="327.03" font-size="8.0" font-weight="bold" text-anchor="end" fill="#111">20</text>
<line x1="385.30" y1="299.47" x2="387.30" y2="299.47" stroke="#3a3a3a" stroke-width="0.9"/>
<text x="383.60" y="302.57" font-size="8.0" font-weight="bold" text-anchor="end" fill="#111">40</text>
<line x1="385.30" y1="275.00" x2="387.30" y2="275.00" stroke="#3a3a3a" stroke-width="0.9"/>
<text x="383.60" y="278.10" font-size="8.0" font-weight="bold" text-anchor="end" fill="#111">60</text>
<line x1="385.30" y1="250.53" x2="387.30" y2="250.53" stroke="#3a3a3a" stroke-width="0.9"/>
<text x="383.60" y="253.63" font-size="8.0" font-weight="bold" text-anchor="end" fill="#111">80</text>
<line x1="385.30" y1="226.07" x2="387.30" y2="226.07" stroke="#3a3a3a" stroke-width="0.9"/>
<text x="383.60" y="229.17" font-size="8.0" font-weight="bold" text-anchor="end" fill="#111">100</text>
<line x1="385.30" y1="201.60" x2="387.30" y2="201.60" stroke="#3a3a3a" stroke-width="0.9"/>
<text x="383.60" y="204.70" font-size="8.0" font-weight="bold" text-anchor="end" fill="#111">120</text>
<line x1="386.00" y1="336.17" x2="387.30" y2="336.17" stroke="#3a3a3a" stroke-width="0.8"/>
<line x1="386.00" y1="311.70" x2="387.30" y2="311.70" stroke="#3a3a3a" stroke-width="0.8"/>
<line x1="386.00" y1="287.23" x2="387.30" y2="287.23" stroke="#3a3a3a" stroke-width="0.8"/>
<line x1="386.00" y1="262.77" x2="387.30" y2="262.77" stroke="#3a3a3a" stroke-width="0.8"/>
<line x1="386.00" y1="238.30" x2="387.30" y2="238.30" stroke="#3a3a3a" stroke-width="0.8"/>
<line x1="386.00" y1="213.83" x2="387.30" y2="213.83" stroke="#3a3a3a" stroke-width="0.8"/>
<line x1="386.70" y1="348.40" x2="515.11" y2="348.40" stroke="#3a3a3a" stroke-width="1.3"/>
<line x1="387.30" y1="348.40" x2="387.30" y2="350.40" stroke="#3a3a3a" stroke-width="0.9"/>
<line x1="405.56" y1="348.40" x2="405.56" y2="350.40" stroke="#3a3a3a" stroke-width="0.9"/>
<line x1="423.82" y1="348.40" x2="423.82" y2="350.40" stroke="#3a3a3a" stroke-width="0.9"/>
<line x1="442.07" y1="348.40" x2="442.07" y2="350.40" stroke="#3a3a3a" stroke-width="0.9"/>
<line x1="460.33" y1="348.40" x2="460.33" y2="350.40" stroke="#3a3a3a" stroke-width="0.9"/>
<line x1="478.59" y1="348.40" x2="478.59" y2="350.40" stroke="#3a3a3a" stroke-width="0.9"/>
<line x1="496.85" y1="348.40" x2="496.85" y2="350.40" stroke="#3a3a3a" stroke-width="0.9"/>
<line x1="515.11" y1="348.40" x2="515.11" y2="350.40" stroke="#3a3a3a" stroke-width="0.9"/>
<text x="387.60" y="358.50" font-size="8.0" font-weight="bold" text-anchor="middle" fill="#111">0</text>
<text x="405.86" y="358.50" font-size="8.0" font-weight="bold" text-anchor="middle" fill="#111">3</text>
<text x="430.20" y="358.50" font-size="8.0" font-weight="bold" text-anchor="middle" fill="#111">7</text>
<text x="460.63" y="358.50" font-size="8.0" font-weight="bold" text-anchor="middle" fill="#111">12</text>
<text x="478.89" y="358.50" font-size="8.0" font-weight="bold" text-anchor="middle" fill="#111">15</text>
<text x="497.15" y="358.50" font-size="8.0" font-weight="bold" text-anchor="middle" fill="#111">18</text>
<text x="515.41" y="358.50" font-size="8.0" font-weight="bold" text-anchor="middle" fill="#111">21</text>
<text x="452.20" y="369.30" font-size="8.9" font-weight="bold" text-anchor="middle" fill="#111"  >Days postinjection</text>
<text x="360.8" y="273.35" font-size="9.2" font-weight="bold" text-anchor="middle" fill="#111" textLength="51.7" lengthAdjust="spacingAndGlyphs" transform="rotate(-90 360.8 273.35)">PLT (10<tspan font-size="6.2" dy="-3.2">4</tspan><tspan dy="3.2">/µL)</tspan></text>
<line x1="405.70" y1="237.90" x2="405.70" y2="272.70" stroke="#5a5a5a" stroke-width="1.0"/>
<line x1="404.70" y1="237.90" x2="406.70" y2="237.90" stroke="#222" stroke-width="1.3"/>
<line x1="404.70" y1="272.70" x2="406.70" y2="272.70" stroke="#222" stroke-width="1.3"/>
<line x1="429.70" y1="253.60" x2="429.70" y2="290.60" stroke="#5a5a5a" stroke-width="1.0"/>
<line x1="428.70" y1="253.60" x2="430.70" y2="253.60" stroke="#222" stroke-width="1.3"/>
<line x1="428.70" y1="290.60" x2="430.70" y2="290.60" stroke="#222" stroke-width="1.3"/>
<line x1="460.80" y1="245.50" x2="460.80" y2="293.00" stroke="#5a5a5a" stroke-width="1.0"/>
<line x1="459.80" y1="245.50" x2="461.80" y2="245.50" stroke="#222" stroke-width="1.3"/>
<line x1="459.80" y1="293.00" x2="461.80" y2="293.00" stroke="#222" stroke-width="1.3"/>
<line x1="487.00" y1="230.10" x2="487.00" y2="251.00" stroke="#5a5a5a" stroke-width="1.0"/>
<line x1="486.00" y1="230.10" x2="488.00" y2="230.10" stroke="#222" stroke-width="1.3"/>
<line x1="486.00" y1="251.00" x2="488.00" y2="251.00" stroke="#222" stroke-width="1.3"/>
<line x1="492.10" y1="223.50" x2="492.10" y2="247.00" stroke="#5a5a5a" stroke-width="1.0"/>
<line x1="491.10" y1="223.50" x2="493.10" y2="223.50" stroke="#222" stroke-width="1.3"/>
<line x1="491.10" y1="247.00" x2="493.10" y2="247.00" stroke="#222" stroke-width="1.3"/>
<line x1="496.40" y1="235.70" x2="496.40" y2="263.10" stroke="#5a5a5a" stroke-width="1.0"/>
<line x1="495.40" y1="235.70" x2="497.40" y2="235.70" stroke="#222" stroke-width="1.3"/>
<line x1="495.40" y1="263.10" x2="497.40" y2="263.10" stroke="#222" stroke-width="1.3"/>
<line x1="509.10" y1="201.40" x2="509.10" y2="266.20" stroke="#5a5a5a" stroke-width="1.0"/>
<line x1="508.10" y1="201.40" x2="510.10" y2="201.40" stroke="#222" stroke-width="1.3"/>
<line x1="508.10" y1="266.20" x2="510.10" y2="266.20" stroke="#222" stroke-width="1.3"/>
<polyline points="405.70,258.80 429.70,275.50 460.80,264.90 487.00,240.80" fill="none" stroke="#3d62d8" stroke-width="1.0" stroke-linejoin="miter"/>
<polyline points="405.70,261.60 429.70,268.10 460.80,275.10 496.40,248.90" fill="none" stroke="#36a23a" stroke-width="1.0" stroke-linejoin="miter"/>
<polyline points="405.70,258.00 429.70,268.00 460.80,264.90 492.10,237.00" fill="none" stroke="#5a30dc" stroke-width="1.0" stroke-linejoin="miter"/>
<polyline points="405.70,246.80 429.70,278.80 460.80,278.90 509.10,234.40" fill="none" stroke="#e0242b" stroke-width="1.0" stroke-linejoin="miter"/>
<polygon points="405.70,255.00 408.70,258.00 405.70,261.00 402.70,258.00" fill="#5a30dc"/>
<polygon points="429.70,265.00 432.70,268.00 429.70,271.00 426.70,268.00" fill="#5a30dc"/>
<polygon points="460.80,261.90 463.80,264.90 460.80,267.90 457.80,264.90" fill="#5a30dc"/>
<polygon points="492.10,234.00 495.10,237.00 492.10,240.00 489.10,237.00" fill="#5a30dc"/>
<circle cx="405.70" cy="258.80" r="2.70" fill="#3d62d8"/>
<circle cx="429.70" cy="275.50" r="2.70" fill="#3d62d8"/>
<circle cx="460.80" cy="264.90" r="2.70" fill="#3d62d8"/>
<circle cx="487.00" cy="240.80" r="2.70" fill="#3d62d8"/>
<polygon points="402.70,258.80 408.70,258.80 405.70,264.40" fill="#36a23a"/>
<polygon points="426.70,265.30 432.70,265.30 429.70,270.90" fill="#36a23a"/>
<polygon points="457.80,272.30 463.80,272.30 460.80,277.90" fill="#36a23a"/>
<polygon points="493.40,246.10 499.40,246.10 496.40,251.70" fill="#36a23a"/>
<polygon points="402.70,249.60 408.70,249.60 405.70,244.00" fill="#e0242b"/>
<polygon points="426.70,281.60 432.70,281.60 429.70,276.00" fill="#e0242b"/>
<polygon points="457.80,281.70 463.80,281.70 460.80,276.10" fill="#e0242b"/>
<polygon points="506.10,237.20 512.10,237.20 509.10,231.60" fill="#e0242b"/>
<circle cx="405.70" cy="232.00" r="1.2" fill="#111"/>
<rect x="137.4" y="385.1" width="278.3" height="46.8" fill="none" stroke="#8c8c8c" stroke-width="1"/>
<circle cx="147.30" cy="399.00" r="3.24" fill="#3d62d8"/>
<line x1="158.40" y1="399.10" x2="167.60" y2="399.10" stroke="#3d62d8" stroke-width="2.1"/>
<text x="174.4" y="402.4" font-size="8.9" fill="#1a1a1a" stroke="#1a1a1a" stroke-width="0.15" textLength="58.4" lengthAdjust="spacingAndGlyphs">Vehicle control</text>
<polygon points="147.30,416.05 150.45,419.20 147.30,422.35 144.15,419.20" fill="#5a30dc"/>
<line x1="158.40" y1="419.30" x2="167.60" y2="419.30" stroke="#5a30dc" stroke-width="2.1"/>
<text x="174.4" y="422.8" font-size="8.9" fill="#1a1a1a" stroke="#1a1a1a" stroke-width="0.15" textLength="110.4" lengthAdjust="spacingAndGlyphs">RAFT-c(-RGDfK-)<tspan font-size="6.2" dy="1.8">4</tspan><tspan dy="-1.8"> (2 nmol)</tspan></text>
<polygon points="305.25,395.38 312.15,395.38 308.70,401.82" fill="#36a23a"/>
<line x1="319.20" y1="399.10" x2="328.80" y2="399.10" stroke="#36a23a" stroke-width="2.1"/>
<text x="335.0" y="402.6" font-size="8.9" fill="#1a1a1a" stroke="#1a1a1a" stroke-width="0.15" textLength="62.5" lengthAdjust="spacingAndGlyphs">37 MBq, 1 nmol</text>
<polygon points="305.25,422.82 312.15,422.82 308.70,416.38" fill="#e0242b"/>
<line x1="319.20" y1="419.80" x2="328.80" y2="419.80" stroke="#e0242b" stroke-width="2.1"/>
<text x="335.0" y="423.2" font-size="8.9" fill="#1a1a1a" stroke="#1a1a1a" stroke-width="0.15" textLength="62.5" lengthAdjust="spacingAndGlyphs">74 MBq, 2 nmol</text>
</svg></body></html>
